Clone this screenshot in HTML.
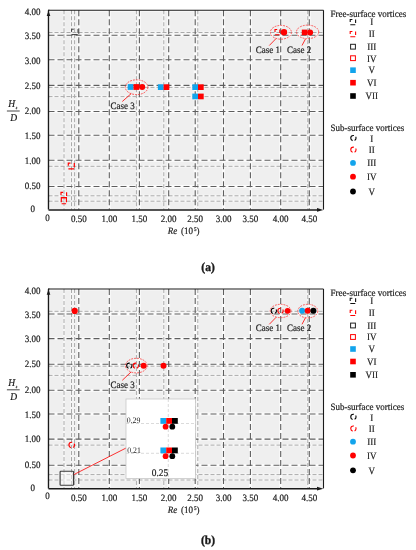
<!DOCTYPE html>
<html><head><meta charset="utf-8"><title>Vortex regime map</title>
<style>html,body{margin:0;padding:0;background:#fff;}svg{display:block;text-rendering:geometricPrecision;}text{fill:#1a1a1a;stroke:#1a1a1a;stroke-width:0.18px;}</style>
</head><body>
<svg width="416" height="550" viewBox="0 0 416 550" style="font-family:'Liberation Serif','Times New Roman',serif">
<rect width="416" height="550" fill="#ffffff"/>
<rect x="50.1" y="11.50" width="273.4" height="198.1" fill="#efefef"/>
<line x1="64.00" y1="10.20" x2="64.00" y2="209.60" stroke="#f7f7f7" stroke-width="2.2"/>
<line x1="71.50" y1="10.20" x2="71.50" y2="209.60" stroke="#f7f7f7" stroke-width="2.2"/>
<line x1="74.60" y1="10.20" x2="74.60" y2="209.60" stroke="#f7f7f7" stroke-width="2.2"/>
<line x1="136.40" y1="10.20" x2="136.40" y2="209.60" stroke="#f7f7f7" stroke-width="2.2"/>
<line x1="163.80" y1="10.20" x2="163.80" y2="209.60" stroke="#f7f7f7" stroke-width="2.2"/>
<line x1="197.80" y1="10.20" x2="197.80" y2="209.60" stroke="#f7f7f7" stroke-width="2.2"/>
<line x1="307.80" y1="10.20" x2="307.80" y2="209.60" stroke="#f7f7f7" stroke-width="2.2"/>
<line x1="48.50" y1="32.50" x2="323.50" y2="32.50" stroke="#f7f7f7" stroke-width="2.2"/>
<line x1="48.50" y1="87.40" x2="323.50" y2="87.40" stroke="#f7f7f7" stroke-width="2.2"/>
<line x1="48.50" y1="96.60" x2="323.50" y2="96.60" stroke="#f7f7f7" stroke-width="2.2"/>
<line x1="48.50" y1="166.30" x2="323.50" y2="166.30" stroke="#f7f7f7" stroke-width="2.2"/>
<line x1="48.50" y1="195.80" x2="323.50" y2="195.80" stroke="#f7f7f7" stroke-width="2.2"/>
<line x1="48.50" y1="201.20" x2="323.50" y2="201.20" stroke="#f7f7f7" stroke-width="2.2"/>
<line x1="78.80" y1="10.20" x2="78.80" y2="209.60" stroke="#fbfbfb" stroke-width="2.8"/>
<line x1="109.30" y1="10.20" x2="109.30" y2="209.60" stroke="#fbfbfb" stroke-width="2.8"/>
<line x1="139.40" y1="10.20" x2="139.40" y2="209.60" stroke="#fbfbfb" stroke-width="2.8"/>
<line x1="168.70" y1="10.20" x2="168.70" y2="209.60" stroke="#fbfbfb" stroke-width="2.8"/>
<line x1="195.20" y1="10.20" x2="195.20" y2="209.60" stroke="#fbfbfb" stroke-width="2.8"/>
<line x1="223.50" y1="10.20" x2="223.50" y2="209.60" stroke="#fbfbfb" stroke-width="2.8"/>
<line x1="250.40" y1="10.20" x2="250.40" y2="209.60" stroke="#fbfbfb" stroke-width="2.8"/>
<line x1="280.70" y1="10.20" x2="280.70" y2="209.60" stroke="#fbfbfb" stroke-width="2.8"/>
<line x1="309.30" y1="10.20" x2="309.30" y2="209.60" stroke="#fbfbfb" stroke-width="2.8"/>
<line x1="48.50" y1="35.20" x2="323.50" y2="35.20" stroke="#fbfbfb" stroke-width="2.8"/>
<line x1="48.50" y1="59.80" x2="323.50" y2="59.80" stroke="#fbfbfb" stroke-width="2.8"/>
<line x1="48.50" y1="85.40" x2="323.50" y2="85.40" stroke="#fbfbfb" stroke-width="2.8"/>
<line x1="48.50" y1="111.50" x2="323.50" y2="111.50" stroke="#fbfbfb" stroke-width="2.8"/>
<line x1="48.50" y1="135.20" x2="323.50" y2="135.20" stroke="#fbfbfb" stroke-width="2.8"/>
<line x1="48.50" y1="160.30" x2="323.50" y2="160.30" stroke="#fbfbfb" stroke-width="2.8"/>
<line x1="48.50" y1="186.50" x2="323.50" y2="186.50" stroke="#fbfbfb" stroke-width="2.8"/>
<line x1="64.00" y1="10.20" x2="64.00" y2="209.60" stroke="#aaaaaa" stroke-width="1" stroke-dasharray="4 2"/>
<line x1="71.50" y1="10.20" x2="71.50" y2="209.60" stroke="#aaaaaa" stroke-width="1" stroke-dasharray="4 2"/>
<line x1="74.60" y1="10.20" x2="74.60" y2="209.60" stroke="#aaaaaa" stroke-width="1" stroke-dasharray="4 2"/>
<line x1="136.40" y1="10.20" x2="136.40" y2="209.60" stroke="#aaaaaa" stroke-width="1" stroke-dasharray="4 2"/>
<line x1="163.80" y1="10.20" x2="163.80" y2="209.60" stroke="#aaaaaa" stroke-width="1" stroke-dasharray="4 2"/>
<line x1="197.80" y1="10.20" x2="197.80" y2="209.60" stroke="#aaaaaa" stroke-width="1" stroke-dasharray="4 2"/>
<line x1="307.80" y1="10.20" x2="307.80" y2="209.60" stroke="#aaaaaa" stroke-width="1" stroke-dasharray="4 2"/>
<line x1="48.50" y1="32.50" x2="323.50" y2="32.50" stroke="#aaaaaa" stroke-width="1" stroke-dasharray="4 2"/>
<line x1="48.50" y1="87.40" x2="323.50" y2="87.40" stroke="#aaaaaa" stroke-width="1" stroke-dasharray="4 2"/>
<line x1="48.50" y1="96.60" x2="323.50" y2="96.60" stroke="#aaaaaa" stroke-width="1" stroke-dasharray="4 2"/>
<line x1="48.50" y1="166.30" x2="323.50" y2="166.30" stroke="#aaaaaa" stroke-width="1" stroke-dasharray="4 2"/>
<line x1="48.50" y1="195.80" x2="323.50" y2="195.80" stroke="#aaaaaa" stroke-width="1" stroke-dasharray="4 2"/>
<line x1="48.50" y1="201.20" x2="323.50" y2="201.20" stroke="#aaaaaa" stroke-width="1" stroke-dasharray="4 2"/>
<line x1="78.80" y1="10.20" x2="78.80" y2="209.60" stroke="#5e5e5e" stroke-width="1.1" stroke-dasharray="6 3"/>
<line x1="109.30" y1="10.20" x2="109.30" y2="209.60" stroke="#5e5e5e" stroke-width="1.1" stroke-dasharray="6 3"/>
<line x1="139.40" y1="10.20" x2="139.40" y2="209.60" stroke="#5e5e5e" stroke-width="1.1" stroke-dasharray="6 3"/>
<line x1="168.70" y1="10.20" x2="168.70" y2="209.60" stroke="#5e5e5e" stroke-width="1.1" stroke-dasharray="6 3"/>
<line x1="195.20" y1="10.20" x2="195.20" y2="209.60" stroke="#5e5e5e" stroke-width="1.1" stroke-dasharray="6 3"/>
<line x1="223.50" y1="10.20" x2="223.50" y2="209.60" stroke="#5e5e5e" stroke-width="1.1" stroke-dasharray="6 3"/>
<line x1="250.40" y1="10.20" x2="250.40" y2="209.60" stroke="#5e5e5e" stroke-width="1.1" stroke-dasharray="6 3"/>
<line x1="280.70" y1="10.20" x2="280.70" y2="209.60" stroke="#5e5e5e" stroke-width="1.1" stroke-dasharray="6 3"/>
<line x1="309.30" y1="10.20" x2="309.30" y2="209.60" stroke="#5e5e5e" stroke-width="1.1" stroke-dasharray="6 3"/>
<line x1="48.50" y1="35.20" x2="323.50" y2="35.20" stroke="#5e5e5e" stroke-width="1.1" stroke-dasharray="6 3"/>
<line x1="48.50" y1="59.80" x2="323.50" y2="59.80" stroke="#5e5e5e" stroke-width="1.1" stroke-dasharray="6 3"/>
<line x1="48.50" y1="85.40" x2="323.50" y2="85.40" stroke="#5e5e5e" stroke-width="1.1" stroke-dasharray="6 3"/>
<line x1="48.50" y1="111.50" x2="323.50" y2="111.50" stroke="#5e5e5e" stroke-width="1.1" stroke-dasharray="6 3"/>
<line x1="48.50" y1="135.20" x2="323.50" y2="135.20" stroke="#5e5e5e" stroke-width="1.1" stroke-dasharray="6 3"/>
<line x1="48.50" y1="160.30" x2="323.50" y2="160.30" stroke="#5e5e5e" stroke-width="1.1" stroke-dasharray="6 3"/>
<line x1="48.50" y1="186.50" x2="323.50" y2="186.50" stroke="#5e5e5e" stroke-width="1.1" stroke-dasharray="6 3"/>
<line x1="48.50" y1="10.20" x2="323.50" y2="10.20" stroke="#1a1a1a" stroke-width="1.15"/>
<line x1="323.50" y1="10.20" x2="323.50" y2="209.60" stroke="#1a1a1a" stroke-width="1.1"/>
<line x1="48.50" y1="209.90" x2="318.00" y2="209.90" stroke="#1a1a1a" stroke-width="1.5"/>
<polygon points="317,208.00 323.4,209.90 317,211.80" fill="#1a1a1a"/>
<path d="M48.5,209.60 L48.5,10.80 Q48.5,10.20 49.3,10.20" fill="none" stroke="#1a1a1a" stroke-width="1.4"/>
<polygon points="46.7,16.00 48.5,10.80 50.3,16.00" fill="#1a1a1a"/>
<text transform="translate(32.70 15.20) scale(1 1.08)" font-size="9" text-anchor="middle">4.00</text>
<text transform="translate(32.70 38.90) scale(1 1.08)" font-size="9" text-anchor="middle">3.50</text>
<text transform="translate(32.70 63.60) scale(1 1.08)" font-size="9" text-anchor="middle">3.00</text>
<text transform="translate(32.70 88.60) scale(1 1.08)" font-size="9" text-anchor="middle">2.50</text>
<text transform="translate(32.70 113.90) scale(1 1.08)" font-size="9" text-anchor="middle">2.00</text>
<text transform="translate(32.70 138.70) scale(1 1.08)" font-size="9" text-anchor="middle">1.50</text>
<text transform="translate(32.70 163.60) scale(1 1.08)" font-size="9" text-anchor="middle">1.00</text>
<text transform="translate(32.70 188.90) scale(1 1.08)" font-size="9" text-anchor="middle">0.50</text>
<text transform="translate(32.70 212.20) scale(1 1.08)" font-size="9" text-anchor="middle">0</text>
<text transform="translate(47.40 220.60) scale(1 1.08)" font-size="9" text-anchor="middle">0</text>
<text transform="translate(78.80 221.80) scale(1 1.08)" font-size="9" text-anchor="middle">0.50</text>
<text transform="translate(109.30 221.80) scale(1 1.08)" font-size="9" text-anchor="middle">1.00</text>
<text transform="translate(139.40 221.80) scale(1 1.08)" font-size="9" text-anchor="middle">1.50</text>
<text transform="translate(168.70 221.80) scale(1 1.08)" font-size="9" text-anchor="middle">2.00</text>
<text transform="translate(195.20 221.80) scale(1 1.08)" font-size="9" text-anchor="middle">2.50</text>
<text transform="translate(223.50 221.80) scale(1 1.08)" font-size="9" text-anchor="middle">3.00</text>
<text transform="translate(250.40 221.80) scale(1 1.08)" font-size="9" text-anchor="middle">3.50</text>
<text transform="translate(280.70 221.80) scale(1 1.08)" font-size="9" text-anchor="middle">4.00</text>
<text transform="translate(309.30 221.80) scale(1 1.08)" font-size="9" text-anchor="middle">4.50</text>
<text transform="translate(167.80 233.80) scale(1 1.08)" font-size="9" text-anchor="start" font-style="italic">Re</text>
<text transform="translate(181.00 233.80) scale(1 1.08)" font-size="9" text-anchor="start">(10</text>
<text transform="translate(194.00 230.70) scale(1 1.08)" font-size="5.0" text-anchor="start">5</text>
<text transform="translate(196.60 233.80) scale(1 1.08)" font-size="9" text-anchor="start">)</text>
<text transform="translate(8.20 107.10) scale(1 1.08)" font-size="9.5" text-anchor="start" font-style="italic">H</text>
<text transform="translate(15.70 109.30) scale(1 1.08)" font-size="4" text-anchor="start" font-style="italic">s</text>
<line x1="6.90" y1="111.00" x2="19.70" y2="111.00" stroke="#333" stroke-width="0.9"/>
<text transform="translate(10.20 121.00) scale(1 1.08)" font-size="9.5" text-anchor="start" font-style="italic">D</text>
<text transform="translate(330.50 17.20) scale(1 1.08)" font-size="9" text-anchor="start">Free-surface vortices</text>
<path d="M350.20,22.10 V19.50 H352.40 M355.60,19.40 V23.10 M350.30,24.70 H355.30" fill="none" stroke="#111" stroke-width="1.1"/>
<text transform="translate(371.70 25.40) scale(1 1.08)" font-size="9" text-anchor="middle">I</text>
<path d="M350.20,34.10 V31.50 H352.40 M355.60,31.40 V35.10 M350.30,36.70 H355.30" fill="none" stroke="#ff0000" stroke-width="1.1"/>
<text transform="translate(371.70 37.40) scale(1 1.08)" font-size="9" text-anchor="middle">II</text>
<rect x="350.60" y="44.30" width="4.8" height="4.8" fill="none" stroke="#222" stroke-width="1"/>
<text transform="translate(371.70 50.10) scale(1 1.08)" font-size="9" text-anchor="middle">III</text>
<rect x="350.60" y="55.80" width="4.8" height="4.8" fill="none" stroke="#ff0000" stroke-width="1"/>
<text transform="translate(371.70 61.60) scale(1 1.08)" font-size="9" text-anchor="middle">IV</text>
<rect x="350.20" y="67.40" width="5.6" height="5.6" fill="#12a4ec"/>
<text transform="translate(371.70 73.40) scale(1 1.08)" font-size="9" text-anchor="middle">V</text>
<rect x="350.20" y="79.90" width="5.6" height="5.6" fill="#ff0000"/>
<text transform="translate(371.70 85.90) scale(1 1.08)" font-size="9" text-anchor="middle">VI</text>
<rect x="350.20" y="93.20" width="5.6" height="5.6" fill="#000000"/>
<text transform="translate(371.70 99.20) scale(1 1.08)" font-size="9" text-anchor="middle">VII</text>
<text transform="translate(330.50 131.20) scale(1 1.08)" font-size="9" text-anchor="start">Sub-surface vortices</text>
<circle cx="353.40" cy="138.10" r="2.65" fill="none" stroke="#000000" stroke-width="1.1" stroke-dasharray="2.78 2.08 7.86 2.08 1.85 0"/>
<text transform="translate(371.70 141.80) scale(1 1.08)" font-size="9" text-anchor="middle">I</text>
<circle cx="353.40" cy="149.80" r="2.65" fill="none" stroke="#ff0000" stroke-width="1.1" stroke-dasharray="2.78 2.08 7.86 2.08 1.85 0"/>
<text transform="translate(371.70 153.40) scale(1 1.08)" font-size="9" text-anchor="middle">II</text>
<circle cx="353.00" cy="162.90" r="2.9" fill="#12a4ec"/>
<text transform="translate(371.70 166.40) scale(1 1.08)" font-size="9" text-anchor="middle">III</text>
<circle cx="353.00" cy="176.70" r="2.9" fill="#ff0000"/>
<text transform="translate(371.70 180.20) scale(1 1.08)" font-size="9" text-anchor="middle">IV</text>
<circle cx="353.00" cy="191.50" r="2.9" fill="#000000"/>
<text transform="translate(371.70 195.00) scale(1 1.08)" font-size="9" text-anchor="middle">V</text>
<path d="M71.60,31.80 V29.20 H73.80 M78.00,29.10 V33.00 M71.70,34.60 H77.70" fill="none" stroke="#3a3a3a" stroke-width="1.0"/>
<path d="M68.30,165.80 V163.20 H70.50 M74.30,163.10 V167.20 M68.40,168.80 H74.00" fill="none" stroke="#ff0000" stroke-width="1.2"/>
<path d="M61.00,195.00 V192.40 H63.20 M66.60,192.30 V196.00 M61.10,197.60 H66.30" fill="none" stroke="#ff0000" stroke-width="1.15"/>
<path d="M61.3,202.2 V197.6 H66.4 V202.2 M61.6,203.7 H66.1" fill="none" stroke="#ff0000" stroke-width="1.15"/>
<rect x="127.70" y="84.10" width="5.8" height="5.8" fill="#12a4ec"/>
<rect x="133.50" y="84.10" width="5.8" height="5.8" fill="#ff0000"/>
<circle cx="142.20" cy="87.00" r="3.0" fill="#ff0000"/>
<ellipse cx="136.60" cy="87.20" rx="11.3" ry="7.4" fill="none" stroke="#ff3a3a" stroke-width="0.85" stroke-dasharray="1.8 1.1"/>
<line x1="131.30" y1="93.50" x2="122.30" y2="101.50" stroke="#ff0000" stroke-width="0.8"/>
<text transform="translate(110.60 109.00) scale(1 1.08)" font-size="9" text-anchor="start">Case 3</text>
<rect x="157.90" y="84.30" width="5.7" height="5.7" fill="#12a4ec"/>
<rect x="163.60" y="84.30" width="5.7" height="5.7" fill="#ff0000"/>
<rect x="192.30" y="84.30" width="5.7" height="5.7" fill="#12a4ec"/>
<rect x="198.00" y="84.30" width="5.7" height="5.7" fill="#ff0000"/>
<rect x="192.30" y="93.60" width="5.7" height="5.7" fill="#12a4ec"/>
<rect x="198.00" y="93.60" width="5.7" height="5.7" fill="#ff0000"/>
<path d="M275.00,32.10 V29.50 H277.20 M279.80,29.40 V33.10 M275.10,34.70 H279.50" fill="none" stroke="#ff0000" stroke-width="1.1"/>
<circle cx="284.00" cy="32.20" r="3.2" fill="#ff0000"/>
<ellipse cx="280.90" cy="32.30" rx="10.5" ry="6.9" fill="none" stroke="#ff3a3a" stroke-width="0.85" stroke-dasharray="1.8 1.1"/>
<rect x="301.80" y="29.60" width="5.6" height="5.6" fill="#ff0000"/>
<circle cx="310.10" cy="32.40" r="3.0" fill="#ff0000"/>
<ellipse cx="307.60" cy="31.90" rx="11.1" ry="6.8" fill="none" stroke="#ff3a3a" stroke-width="0.85" stroke-dasharray="1.8 1.1"/>
<line x1="276.00" y1="38.60" x2="269.30" y2="45.50" stroke="#ff0000" stroke-width="0.8"/>
<line x1="305.50" y1="38.90" x2="302.00" y2="45.50" stroke="#ff0000" stroke-width="0.8"/>
<text transform="translate(255.80 52.90) scale(1 1.08)" font-size="9" text-anchor="start">Case 1</text>
<text transform="translate(287.00 52.90) scale(1 1.08)" font-size="9" text-anchor="start">Case 2</text>
<text transform="translate(208.00 271.20) scale(1 1.08)" font-size="11.5" text-anchor="middle" font-weight="bold" style="stroke-width:0.35px">(a)</text>
<rect x="50.1" y="290.30" width="273.4" height="198.1" fill="#efefef"/>
<line x1="64.00" y1="289.00" x2="64.00" y2="488.40" stroke="#f7f7f7" stroke-width="2.2"/>
<line x1="71.50" y1="289.00" x2="71.50" y2="488.40" stroke="#f7f7f7" stroke-width="2.2"/>
<line x1="74.60" y1="289.00" x2="74.60" y2="488.40" stroke="#f7f7f7" stroke-width="2.2"/>
<line x1="136.40" y1="289.00" x2="136.40" y2="488.40" stroke="#f7f7f7" stroke-width="2.2"/>
<line x1="163.80" y1="289.00" x2="163.80" y2="488.40" stroke="#f7f7f7" stroke-width="2.2"/>
<line x1="197.80" y1="289.00" x2="197.80" y2="488.40" stroke="#f7f7f7" stroke-width="2.2"/>
<line x1="307.80" y1="289.00" x2="307.80" y2="488.40" stroke="#f7f7f7" stroke-width="2.2"/>
<line x1="48.50" y1="311.30" x2="323.50" y2="311.30" stroke="#f7f7f7" stroke-width="2.2"/>
<line x1="48.50" y1="366.20" x2="323.50" y2="366.20" stroke="#f7f7f7" stroke-width="2.2"/>
<line x1="48.50" y1="375.40" x2="323.50" y2="375.40" stroke="#f7f7f7" stroke-width="2.2"/>
<line x1="48.50" y1="445.10" x2="323.50" y2="445.10" stroke="#f7f7f7" stroke-width="2.2"/>
<line x1="48.50" y1="474.60" x2="323.50" y2="474.60" stroke="#f7f7f7" stroke-width="2.2"/>
<line x1="48.50" y1="480.00" x2="323.50" y2="480.00" stroke="#f7f7f7" stroke-width="2.2"/>
<line x1="78.80" y1="289.00" x2="78.80" y2="488.40" stroke="#fbfbfb" stroke-width="2.8"/>
<line x1="109.30" y1="289.00" x2="109.30" y2="488.40" stroke="#fbfbfb" stroke-width="2.8"/>
<line x1="139.40" y1="289.00" x2="139.40" y2="488.40" stroke="#fbfbfb" stroke-width="2.8"/>
<line x1="168.70" y1="289.00" x2="168.70" y2="488.40" stroke="#fbfbfb" stroke-width="2.8"/>
<line x1="195.20" y1="289.00" x2="195.20" y2="488.40" stroke="#fbfbfb" stroke-width="2.8"/>
<line x1="223.50" y1="289.00" x2="223.50" y2="488.40" stroke="#fbfbfb" stroke-width="2.8"/>
<line x1="250.40" y1="289.00" x2="250.40" y2="488.40" stroke="#fbfbfb" stroke-width="2.8"/>
<line x1="280.70" y1="289.00" x2="280.70" y2="488.40" stroke="#fbfbfb" stroke-width="2.8"/>
<line x1="309.30" y1="289.00" x2="309.30" y2="488.40" stroke="#fbfbfb" stroke-width="2.8"/>
<line x1="48.50" y1="314.00" x2="323.50" y2="314.00" stroke="#fbfbfb" stroke-width="2.8"/>
<line x1="48.50" y1="338.60" x2="323.50" y2="338.60" stroke="#fbfbfb" stroke-width="2.8"/>
<line x1="48.50" y1="364.20" x2="323.50" y2="364.20" stroke="#fbfbfb" stroke-width="2.8"/>
<line x1="48.50" y1="390.30" x2="323.50" y2="390.30" stroke="#fbfbfb" stroke-width="2.8"/>
<line x1="48.50" y1="414.00" x2="323.50" y2="414.00" stroke="#fbfbfb" stroke-width="2.8"/>
<line x1="48.50" y1="439.10" x2="323.50" y2="439.10" stroke="#fbfbfb" stroke-width="2.8"/>
<line x1="48.50" y1="465.30" x2="323.50" y2="465.30" stroke="#fbfbfb" stroke-width="2.8"/>
<line x1="64.00" y1="289.00" x2="64.00" y2="488.40" stroke="#aaaaaa" stroke-width="1" stroke-dasharray="4 2"/>
<line x1="71.50" y1="289.00" x2="71.50" y2="488.40" stroke="#aaaaaa" stroke-width="1" stroke-dasharray="4 2"/>
<line x1="74.60" y1="289.00" x2="74.60" y2="488.40" stroke="#aaaaaa" stroke-width="1" stroke-dasharray="4 2"/>
<line x1="136.40" y1="289.00" x2="136.40" y2="488.40" stroke="#aaaaaa" stroke-width="1" stroke-dasharray="4 2"/>
<line x1="163.80" y1="289.00" x2="163.80" y2="488.40" stroke="#aaaaaa" stroke-width="1" stroke-dasharray="4 2"/>
<line x1="197.80" y1="289.00" x2="197.80" y2="488.40" stroke="#aaaaaa" stroke-width="1" stroke-dasharray="4 2"/>
<line x1="307.80" y1="289.00" x2="307.80" y2="488.40" stroke="#aaaaaa" stroke-width="1" stroke-dasharray="4 2"/>
<line x1="48.50" y1="311.30" x2="323.50" y2="311.30" stroke="#aaaaaa" stroke-width="1" stroke-dasharray="4 2"/>
<line x1="48.50" y1="366.20" x2="323.50" y2="366.20" stroke="#aaaaaa" stroke-width="1" stroke-dasharray="4 2"/>
<line x1="48.50" y1="375.40" x2="323.50" y2="375.40" stroke="#aaaaaa" stroke-width="1" stroke-dasharray="4 2"/>
<line x1="48.50" y1="445.10" x2="323.50" y2="445.10" stroke="#aaaaaa" stroke-width="1" stroke-dasharray="4 2"/>
<line x1="48.50" y1="474.60" x2="323.50" y2="474.60" stroke="#aaaaaa" stroke-width="1" stroke-dasharray="4 2"/>
<line x1="48.50" y1="480.00" x2="323.50" y2="480.00" stroke="#aaaaaa" stroke-width="1" stroke-dasharray="4 2"/>
<line x1="78.80" y1="289.00" x2="78.80" y2="488.40" stroke="#5e5e5e" stroke-width="1.1" stroke-dasharray="6 3"/>
<line x1="109.30" y1="289.00" x2="109.30" y2="488.40" stroke="#5e5e5e" stroke-width="1.1" stroke-dasharray="6 3"/>
<line x1="139.40" y1="289.00" x2="139.40" y2="488.40" stroke="#5e5e5e" stroke-width="1.1" stroke-dasharray="6 3"/>
<line x1="168.70" y1="289.00" x2="168.70" y2="488.40" stroke="#5e5e5e" stroke-width="1.1" stroke-dasharray="6 3"/>
<line x1="195.20" y1="289.00" x2="195.20" y2="488.40" stroke="#5e5e5e" stroke-width="1.1" stroke-dasharray="6 3"/>
<line x1="223.50" y1="289.00" x2="223.50" y2="488.40" stroke="#5e5e5e" stroke-width="1.1" stroke-dasharray="6 3"/>
<line x1="250.40" y1="289.00" x2="250.40" y2="488.40" stroke="#5e5e5e" stroke-width="1.1" stroke-dasharray="6 3"/>
<line x1="280.70" y1="289.00" x2="280.70" y2="488.40" stroke="#5e5e5e" stroke-width="1.1" stroke-dasharray="6 3"/>
<line x1="309.30" y1="289.00" x2="309.30" y2="488.40" stroke="#5e5e5e" stroke-width="1.1" stroke-dasharray="6 3"/>
<line x1="48.50" y1="314.00" x2="323.50" y2="314.00" stroke="#5e5e5e" stroke-width="1.1" stroke-dasharray="6 3"/>
<line x1="48.50" y1="338.60" x2="323.50" y2="338.60" stroke="#5e5e5e" stroke-width="1.1" stroke-dasharray="6 3"/>
<line x1="48.50" y1="364.20" x2="323.50" y2="364.20" stroke="#5e5e5e" stroke-width="1.1" stroke-dasharray="6 3"/>
<line x1="48.50" y1="390.30" x2="323.50" y2="390.30" stroke="#5e5e5e" stroke-width="1.1" stroke-dasharray="6 3"/>
<line x1="48.50" y1="414.00" x2="323.50" y2="414.00" stroke="#5e5e5e" stroke-width="1.1" stroke-dasharray="6 3"/>
<line x1="48.50" y1="439.10" x2="323.50" y2="439.10" stroke="#5e5e5e" stroke-width="1.1" stroke-dasharray="6 3"/>
<line x1="48.50" y1="465.30" x2="323.50" y2="465.30" stroke="#5e5e5e" stroke-width="1.1" stroke-dasharray="6 3"/>
<line x1="48.50" y1="289.00" x2="323.50" y2="289.00" stroke="#1a1a1a" stroke-width="1.15"/>
<line x1="323.50" y1="289.00" x2="323.50" y2="488.40" stroke="#1a1a1a" stroke-width="1.1"/>
<line x1="48.50" y1="488.70" x2="318.00" y2="488.70" stroke="#1a1a1a" stroke-width="1.5"/>
<polygon points="317,486.80 323.4,488.70 317,490.60" fill="#1a1a1a"/>
<path d="M48.5,488.40 L48.5,289.60 Q48.5,289.00 49.3,289.00" fill="none" stroke="#1a1a1a" stroke-width="1.4"/>
<polygon points="46.7,294.80 48.5,289.60 50.3,294.80" fill="#1a1a1a"/>
<text transform="translate(32.70 294.00) scale(1 1.08)" font-size="9" text-anchor="middle">4.00</text>
<text transform="translate(32.70 317.70) scale(1 1.08)" font-size="9" text-anchor="middle">3.50</text>
<text transform="translate(32.70 342.40) scale(1 1.08)" font-size="9" text-anchor="middle">3.00</text>
<text transform="translate(32.70 367.40) scale(1 1.08)" font-size="9" text-anchor="middle">2.50</text>
<text transform="translate(32.70 392.70) scale(1 1.08)" font-size="9" text-anchor="middle">2.00</text>
<text transform="translate(32.70 417.50) scale(1 1.08)" font-size="9" text-anchor="middle">1.50</text>
<text transform="translate(32.70 442.40) scale(1 1.08)" font-size="9" text-anchor="middle">1.00</text>
<text transform="translate(32.70 467.70) scale(1 1.08)" font-size="9" text-anchor="middle">0.50</text>
<text transform="translate(32.70 491.00) scale(1 1.08)" font-size="9" text-anchor="middle">0</text>
<text transform="translate(47.40 499.40) scale(1 1.08)" font-size="9" text-anchor="middle">0</text>
<text transform="translate(78.80 500.60) scale(1 1.08)" font-size="9" text-anchor="middle">0.50</text>
<text transform="translate(109.30 500.60) scale(1 1.08)" font-size="9" text-anchor="middle">1.00</text>
<text transform="translate(139.40 500.60) scale(1 1.08)" font-size="9" text-anchor="middle">1.50</text>
<text transform="translate(168.70 500.60) scale(1 1.08)" font-size="9" text-anchor="middle">2.00</text>
<text transform="translate(195.20 500.60) scale(1 1.08)" font-size="9" text-anchor="middle">2.50</text>
<text transform="translate(223.50 500.60) scale(1 1.08)" font-size="9" text-anchor="middle">3.00</text>
<text transform="translate(250.40 500.60) scale(1 1.08)" font-size="9" text-anchor="middle">3.50</text>
<text transform="translate(280.70 500.60) scale(1 1.08)" font-size="9" text-anchor="middle">4.00</text>
<text transform="translate(309.30 500.60) scale(1 1.08)" font-size="9" text-anchor="middle">4.50</text>
<text transform="translate(167.80 512.60) scale(1 1.08)" font-size="9" text-anchor="start" font-style="italic">Re</text>
<text transform="translate(181.00 512.60) scale(1 1.08)" font-size="9" text-anchor="start">(10</text>
<text transform="translate(194.00 509.50) scale(1 1.08)" font-size="5.0" text-anchor="start">5</text>
<text transform="translate(196.60 512.60) scale(1 1.08)" font-size="9" text-anchor="start">)</text>
<text transform="translate(8.20 385.90) scale(1 1.08)" font-size="9.5" text-anchor="start" font-style="italic">H</text>
<text transform="translate(15.70 388.10) scale(1 1.08)" font-size="4" text-anchor="start" font-style="italic">s</text>
<line x1="6.90" y1="389.80" x2="19.70" y2="389.80" stroke="#333" stroke-width="0.9"/>
<text transform="translate(10.20 399.80) scale(1 1.08)" font-size="9.5" text-anchor="start" font-style="italic">D</text>
<text transform="translate(330.50 296.00) scale(1 1.08)" font-size="9" text-anchor="start">Free-surface vortices</text>
<path d="M350.20,300.90 V298.30 H352.40 M355.60,298.20 V301.90 M350.30,303.50 H355.30" fill="none" stroke="#111" stroke-width="1.1"/>
<text transform="translate(371.70 304.20) scale(1 1.08)" font-size="9" text-anchor="middle">I</text>
<path d="M350.20,312.90 V310.30 H352.40 M355.60,310.20 V313.90 M350.30,315.50 H355.30" fill="none" stroke="#ff0000" stroke-width="1.1"/>
<text transform="translate(371.70 316.20) scale(1 1.08)" font-size="9" text-anchor="middle">II</text>
<rect x="350.60" y="323.10" width="4.8" height="4.8" fill="none" stroke="#222" stroke-width="1"/>
<text transform="translate(371.70 328.90) scale(1 1.08)" font-size="9" text-anchor="middle">III</text>
<rect x="350.60" y="334.60" width="4.8" height="4.8" fill="none" stroke="#ff0000" stroke-width="1"/>
<text transform="translate(371.70 340.40) scale(1 1.08)" font-size="9" text-anchor="middle">IV</text>
<rect x="350.20" y="346.20" width="5.6" height="5.6" fill="#12a4ec"/>
<text transform="translate(371.70 352.20) scale(1 1.08)" font-size="9" text-anchor="middle">V</text>
<rect x="350.20" y="358.70" width="5.6" height="5.6" fill="#ff0000"/>
<text transform="translate(371.70 364.70) scale(1 1.08)" font-size="9" text-anchor="middle">VI</text>
<rect x="350.20" y="372.00" width="5.6" height="5.6" fill="#000000"/>
<text transform="translate(371.70 378.00) scale(1 1.08)" font-size="9" text-anchor="middle">VII</text>
<text transform="translate(330.50 410.00) scale(1 1.08)" font-size="9" text-anchor="start">Sub-surface vortices</text>
<circle cx="353.40" cy="416.90" r="2.65" fill="none" stroke="#000000" stroke-width="1.1" stroke-dasharray="2.78 2.08 7.86 2.08 1.85 0"/>
<text transform="translate(371.70 420.60) scale(1 1.08)" font-size="9" text-anchor="middle">I</text>
<circle cx="353.40" cy="428.60" r="2.65" fill="none" stroke="#ff0000" stroke-width="1.1" stroke-dasharray="2.78 2.08 7.86 2.08 1.85 0"/>
<text transform="translate(371.70 432.20) scale(1 1.08)" font-size="9" text-anchor="middle">II</text>
<circle cx="353.00" cy="441.70" r="2.9" fill="#12a4ec"/>
<text transform="translate(371.70 445.20) scale(1 1.08)" font-size="9" text-anchor="middle">III</text>
<circle cx="353.00" cy="455.50" r="2.9" fill="#ff0000"/>
<text transform="translate(371.70 459.00) scale(1 1.08)" font-size="9" text-anchor="middle">IV</text>
<circle cx="353.00" cy="470.30" r="2.9" fill="#000000"/>
<text transform="translate(371.70 473.80) scale(1 1.08)" font-size="9" text-anchor="middle">V</text>
<circle cx="74.70" cy="310.90" r="3.1" fill="#ff0000"/>
<circle cx="71.70" cy="445.00" r="2.8" fill="none" stroke="#ff0000" stroke-width="1.15" stroke-dasharray="2.93 2.20 8.31 2.20 1.95 0"/>
<circle cx="129.30" cy="365.80" r="2.65" fill="none" stroke="#000000" stroke-width="1.1" stroke-dasharray="2.78 2.08 7.86 2.08 1.85 0"/>
<circle cx="135.80" cy="365.80" r="2.65" fill="none" stroke="#ff0000" stroke-width="1.1" stroke-dasharray="2.78 2.08 7.86 2.08 1.85 0"/>
<circle cx="143.60" cy="365.80" r="3.0" fill="#ff0000"/>
<circle cx="163.50" cy="365.80" r="3.0" fill="#ff0000"/>
<ellipse cx="136.30" cy="365.60" rx="10.8" ry="7.3" fill="none" stroke="#ff3a3a" stroke-width="0.85" stroke-dasharray="1.8 1.1"/>
<line x1="131.00" y1="372.00" x2="122.30" y2="380.30" stroke="#ff0000" stroke-width="0.8"/>
<text transform="translate(110.60 387.80) scale(1 1.08)" font-size="9" text-anchor="start">Case 3</text>
<circle cx="273.80" cy="310.90" r="2.65" fill="none" stroke="#000000" stroke-width="1.1" stroke-dasharray="2.78 2.08 7.86 2.08 1.85 0"/>
<circle cx="280.50" cy="310.90" r="2.65" fill="none" stroke="#ff0000" stroke-width="1.1" stroke-dasharray="2.78 2.08 7.86 2.08 1.85 0"/>
<circle cx="287.60" cy="310.80" r="2.9" fill="#ff0000"/>
<ellipse cx="280.60" cy="311.00" rx="10.4" ry="6.7" fill="none" stroke="#ff3a3a" stroke-width="0.85" stroke-dasharray="1.8 1.1"/>
<circle cx="302.10" cy="310.70" r="3.0" fill="#12a4ec"/>
<circle cx="307.70" cy="310.70" r="3.0" fill="#ff0000"/>
<circle cx="313.40" cy="310.70" r="3.0" fill="#000000"/>
<ellipse cx="307.80" cy="311.10" rx="10.0" ry="6.8" fill="none" stroke="#ff3a3a" stroke-width="0.85" stroke-dasharray="1.8 1.1"/>
<line x1="276.00" y1="317.40" x2="269.30" y2="324.30" stroke="#ff0000" stroke-width="0.8"/>
<line x1="305.50" y1="317.70" x2="302.00" y2="324.30" stroke="#ff0000" stroke-width="0.8"/>
<text transform="translate(255.80 331.20) scale(1 1.08)" font-size="9" text-anchor="start">Case 1</text>
<text transform="translate(287.00 331.20) scale(1 1.08)" font-size="9" text-anchor="start">Case 2</text>
<rect x="60.1" y="471.2" width="13.4" height="14" rx="0.8" fill="rgba(255,255,255,0.45)" stroke="#3c3c3c" stroke-width="1.15"/>
<line x1="73.80" y1="474.60" x2="126.30" y2="447.90" stroke="#ff0000" stroke-width="0.8"/>
<rect x="126" y="399" width="69.6" height="79.5" fill="#ffffff" stroke="#c8c8c8" stroke-width="0.8"/>
<line x1="126.00" y1="423.50" x2="195.60" y2="423.50" stroke="#d2d2d2" stroke-width="0.8" stroke-dasharray="3 2"/>
<line x1="126.00" y1="453.30" x2="195.60" y2="453.30" stroke="#d2d2d2" stroke-width="0.8" stroke-dasharray="3 2"/>
<line x1="168.30" y1="399.00" x2="168.30" y2="478.50" stroke="#d2d2d2" stroke-width="0.8" stroke-dasharray="3 2"/>
<rect x="160.40" y="418.00" width="5.8" height="5.8" fill="#12a4ec"/>
<rect x="166.20" y="418.00" width="5.8" height="5.8" fill="#ff0000"/>
<rect x="172.00" y="418.00" width="5.8" height="5.8" fill="#000000"/>
<circle cx="165.60" cy="426.70" r="2.9" fill="#ff0000"/>
<circle cx="172.30" cy="426.70" r="2.9" fill="#000000"/>
<rect x="160.40" y="447.50" width="5.8" height="5.8" fill="#12a4ec"/>
<rect x="166.20" y="447.50" width="5.8" height="5.8" fill="#ff0000"/>
<rect x="172.00" y="447.50" width="5.8" height="5.8" fill="#000000"/>
<circle cx="165.60" cy="456.20" r="2.9" fill="#ff0000"/>
<circle cx="172.30" cy="456.20" r="2.9" fill="#000000"/>
<text transform="translate(133.50 422.60) scale(1 1.08)" font-size="7.8" text-anchor="middle" style="stroke-width:0">0.29</text>
<text transform="translate(134.00 452.60) scale(1 1.08)" font-size="7.8" text-anchor="middle" style="stroke-width:0">0.21</text>
<text transform="translate(160.00 476.30) scale(1 1.08)" font-size="9.4" text-anchor="middle">0.25</text>
<text transform="translate(208.00 544.00) scale(1 1.08)" font-size="11.5" text-anchor="middle" font-weight="bold" style="stroke-width:0.35px">(b)</text>
</svg>
</body></html>
